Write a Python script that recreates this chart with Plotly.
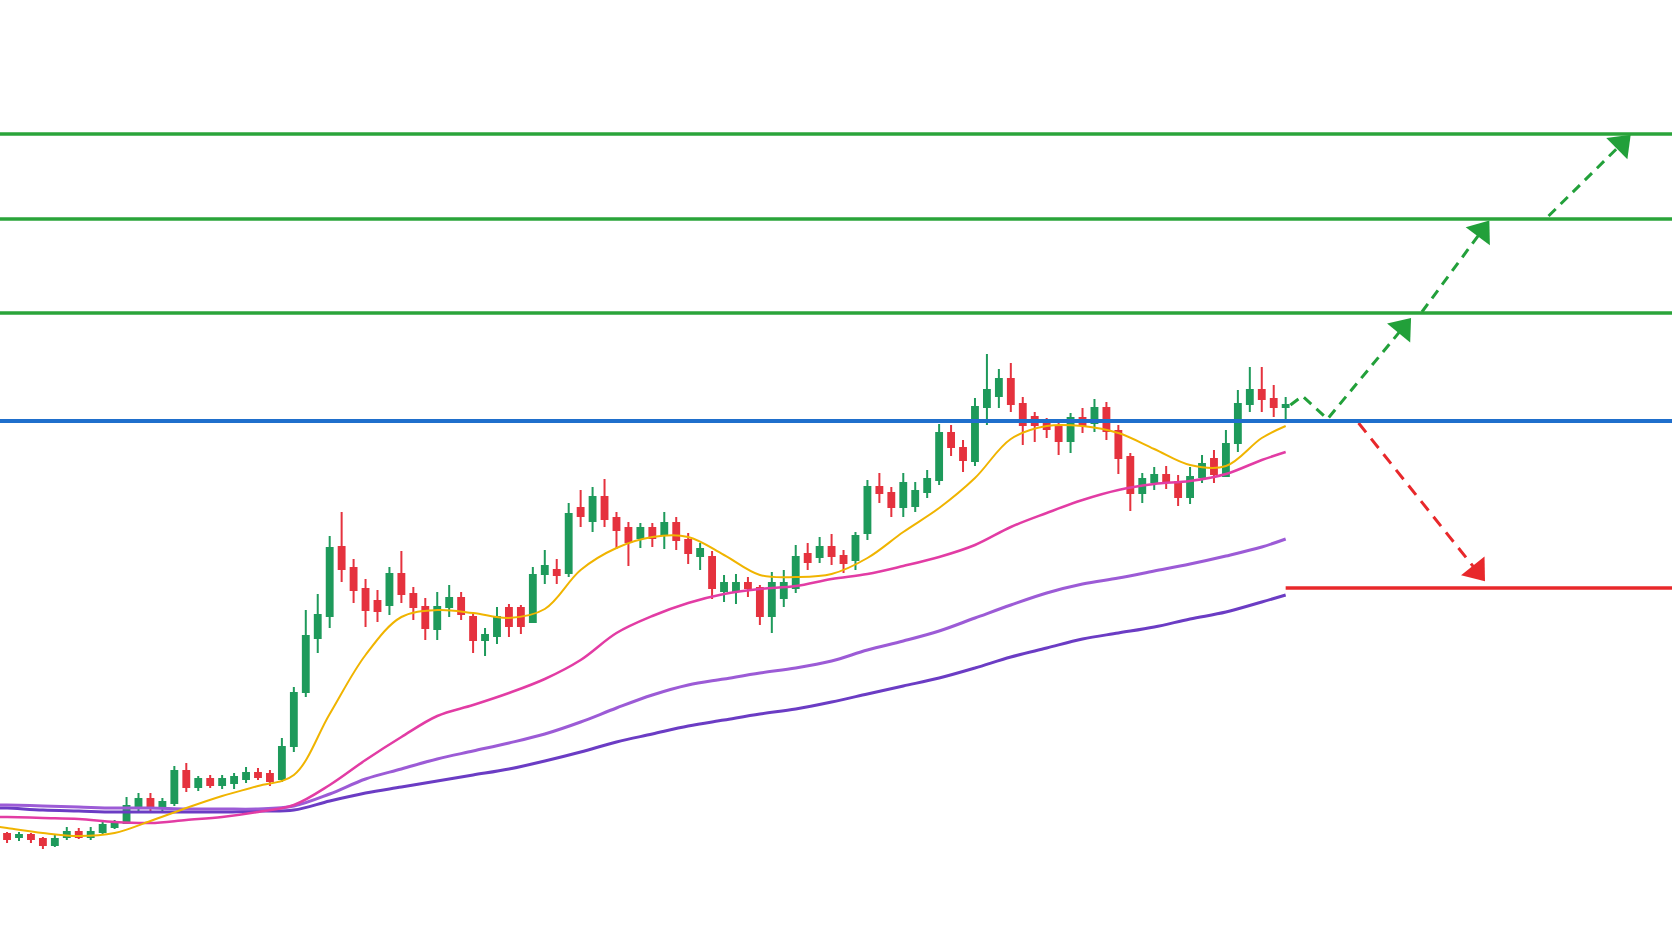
import plotly.graph_objects as go

# candles (price units)
opens = [107, 104, 106, 102, 96, 104, 109, 104, 109, 114,
         118, 135, 142, 134, 138, 170, 154, 162, 156, 158,
         162, 168, 167, 162, 195, 249, 303, 325, 394, 373,
         352, 340, 336, 367, 347, 334, 312, 334, 343, 324,
         301, 305, 333, 333, 319, 367, 371, 368, 433, 420,
         444, 423, 413, 403, 413, 406, 418, 401, 385, 384,
         350, 350, 358, 353, 325, 343, 353, 387, 384, 394,
         385, 381, 408, 454, 448, 434, 435, 449, 461, 508,
         493, 480, 534, 545, 562, 537, 524, 517, 514, 500,
         523, 518, 533, 510, 484, 448, 459, 466, 459, 444,
         464, 482, 465, 498, 537, 551, 542, 534]
highs = [109, 109, 108, 104, 106, 114, 113, 114, 121, 121,
         144, 148, 148, 143, 175, 178, 165, 166, 166, 168,
         174, 173, 171, 203, 254, 331, 347, 405, 429, 382,
         362, 351, 374, 390, 354, 343, 349, 356, 349, 328,
         313, 334, 337, 336, 374, 391, 382, 438, 451, 454,
         462, 429, 419, 418, 418, 429, 424, 408, 398, 390,
         366, 367, 364, 356, 369, 371, 396, 398, 404, 407,
         391, 409, 461, 468, 454, 468, 459, 471, 517, 516,
         501, 543, 587, 572, 578, 544, 529, 523, 521, 528,
         533, 542, 539, 516, 488, 468, 474, 475, 466, 474,
         486, 491, 511, 551, 574, 574, 556, 544]
lows = [98, 100, 98, 92, 94, 101, 102, 101, 106, 112,
        117, 129, 129, 130, 135, 149, 150, 153, 152, 152,
        158, 161, 155, 159, 189, 244, 288, 313, 359, 338,
        314, 319, 326, 338, 321, 301, 301, 324, 321, 288,
        285, 297, 304, 307, 318, 357, 357, 364, 414, 409,
        414, 392, 375, 393, 394, 392, 391, 377, 371, 342,
        339, 337, 344, 316, 308, 334, 348, 371, 378, 376,
        368, 371, 401, 438, 424, 424, 429, 443, 456, 485,
        469, 475, 516, 533, 529, 496, 499, 503, 486, 488,
        508, 509, 501, 467, 430, 438, 451, 452, 435, 437,
        458, 458, 464, 489, 529, 529, 524, 522]
closes = [102, 106, 102, 96, 102, 109, 104, 109, 116, 119,
          135, 142, 134, 139, 170, 154, 162, 156, 162, 164,
          168, 164, 160, 194, 248, 305, 326, 393, 372, 351,
          331, 330, 367, 347, 334, 313, 334, 343, 327, 301,
          306, 324, 315, 315, 366, 375, 366, 427, 425, 444,
          422, 411, 399, 413, 403, 418, 401, 388, 392, 353,
          358, 358, 353, 325, 358, 358, 384, 379, 394, 385,
          378, 405, 454, 448, 434, 458, 450, 462, 508, 494,
          481, 534, 551, 562, 537, 516, 516, 512, 500, 523,
          516, 533, 510, 483, 448, 462, 466, 459, 444, 464,
          477, 467, 497, 537, 551, 542, 534, 536]
bars = list(range(len(opens)))

# moving averages, read at the left edge and then every 3rd bar
ma_bars = [-0.6, 0, 3, 6, 9, 12, 15, 18, 21, 24, 27, 30, 33, 36, 39, 42, 45, 48, 51, 54,
           57, 60, 63, 66, 69, 72, 75, 78, 81, 84, 87, 90, 93, 96, 99, 102, 105, 107]
ma_fast = [114, 113, 108, 105, 108, 120, 133, 145, 155, 166, 227, 286, 324, 331, 328, 323, 332, 371, 393, 404,
           404, 386, 366, 364, 367, 383, 409, 433, 463, 502, 515, 515, 508, 492, 476, 475, 503, 515]
ma_mid = [124, 124, 123, 122, 119, 118, 121, 124, 129, 136, 156, 181, 204, 225, 236, 248, 262, 281, 308, 325,
          338, 347, 352, 355, 362, 367, 375, 384, 396, 414, 428, 441, 451, 457, 460, 467, 481, 489]
ma_slow = [136, 136, 135, 134, 133, 133, 132, 132, 132, 135, 147, 162, 172, 182, 190, 198, 207, 219, 233, 246,
           256, 262, 268, 273, 280, 291, 300, 310, 323, 336, 348, 357, 363, 370, 377, 385, 394, 402]
ma_long = [133, 133, 131, 130, 129, 129, 129, 129, 130, 131, 140, 148, 154, 160, 166, 172, 180, 189, 199, 207,
           215, 221, 227, 232, 239, 247, 255, 263, 273, 284, 293, 302, 308, 314, 322, 329, 339, 346]

# levels
targets = [807, 722, 628]
pivot = 520
stop = 353

# projected paths (bar, price)
up_x = [[107.4, 108.4, 110.5, 116.8], [118.4, 123.4], [129.0, 135.1]]
up_y = [[536, 545, 522, 613], [629, 710], [725, 797]]
down_x = [113.1, 123.0]
down_y = [518, 370]

fig = go.Figure()

for t in targets:
    fig.add_hline(y=t, line=dict(color="#2aa43a", width=3.5))
fig.add_hline(y=pivot, line=dict(color="#1f6fcc", width=4))
fig.add_shape(type="line", x0=107, x1=140, y0=stop, y1=stop,
              line=dict(color="#e8282b", width=3.5))

fig.add_trace(go.Candlestick(
    x=bars, open=opens, high=highs, low=lows, close=closes,
    increasing=dict(line=dict(color="#1e9a5b", width=2), fillcolor="#1e9a5b"),
    decreasing=dict(line=dict(color="#e5323e", width=2), fillcolor="#e5323e"),
    whiskerwidth=0, showlegend=False))

fig.add_trace(go.Scatter(x=ma_bars, y=ma_long, mode="lines", line=dict(color="#6b3cc4", width=3, shape="spline")))
fig.add_trace(go.Scatter(x=ma_bars, y=ma_slow, mode="lines", line=dict(color="#9c5bd6", width=3, shape="spline")))
fig.add_trace(go.Scatter(x=ma_bars, y=ma_mid, mode="lines", line=dict(color="#e23ca4", width=2.5, shape="spline")))
fig.add_trace(go.Scatter(x=ma_bars, y=ma_fast, mode="lines", line=dict(color="#f0b400", width=2, shape="spline")))

for xs, ys in zip(up_x, up_y):
    fig.add_trace(go.Scatter(
        x=xs, y=ys, mode="lines+markers",
        line=dict(color="#22a03a", width=3, dash="10px,7px"),
        marker=dict(symbol="triangle-up", size=[0] * (len(xs) - 1) + [26],
                    color="#22a03a", opacity=1, line=dict(width=0),
                    angleref="previous")))

fig.add_trace(go.Scatter(
    x=down_x, y=down_y, mode="lines+markers",
    line=dict(color="#e8282b", width=3, dash="12px,8px"),
    marker=dict(symbol="triangle-up", size=[0, 26], color="#e8282b", opacity=1,
                line=dict(width=0), angleref="previous")))

fig.update_layout(
    width=1672, height=941,
    margin=dict(l=0, r=0, t=0, b=0),
    paper_bgcolor="white", plot_bgcolor="white",
    showlegend=False,
    xaxis=dict(range=[-0.59, 139.33], visible=False, rangeslider=dict(visible=False)),
    yaxis=dict(range=[0, 941], visible=False),
)

fig.write_html("out.html", config={"displayModeBar": False},
               post_script="document.body.style.margin='0';")
